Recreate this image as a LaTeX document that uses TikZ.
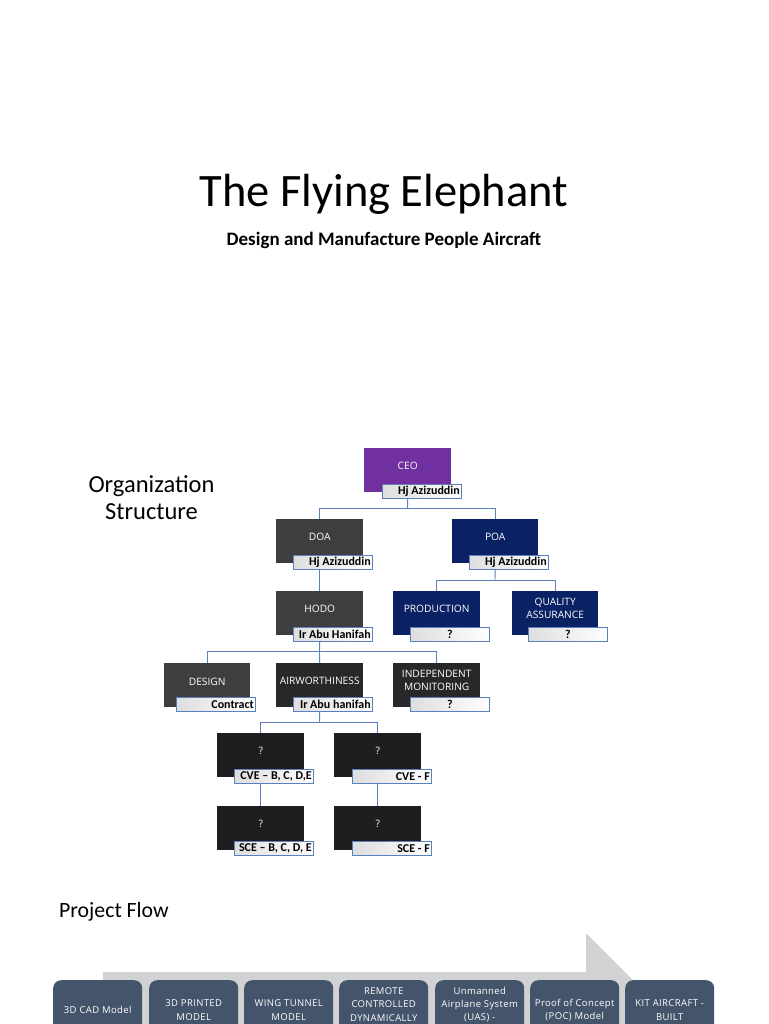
\documentclass[tikz,border=0pt]{standalone}
\usepackage{fontspec}
\setmainfont{Carlito}
\newfontfamily\osans{Open Sans}
\newfontfamily\osansls{Open Sans}[LetterSpace=4]
\usetikzlibrary{calc}
\definecolor{ceoc}{HTML}{7030A0}
\definecolor{grayA}{HTML}{3E3E3E}
\definecolor{grayB}{HTML}{282828}
\definecolor{grayC}{HTML}{1E1E1E}
\definecolor{navyc}{HTML}{0A2163}
\definecolor{connc}{HTML}{5B80C0}
\definecolor{flowc}{HTML}{44546A}
\definecolor{arrowc}{HTML}{D1D2D4}
\tikzset{
  obox/.style={rectangle, inner sep=0pt, minimum width=87pt, minimum height=44pt, anchor=north west},
  btxt/.style={text=white, align=center, inner sep=0pt, font=\osans\fontsize{10.2}{13}\selectfont},
  lbl/.style={rectangle, draw=connc, line width=1pt, left color=black!13, middle color=black!10, right color=white,
     minimum height=14pt, minimum width=79pt, inner sep=0pt, anchor=north west},
  ltxt/.style={text=black, inner sep=0pt, font=\bfseries\fontsize{12}{12}\selectfont},
  conn/.style={draw=connc, line width=0.9pt},
  fbox/.style={rectangle, rounded corners=8pt, fill=flowc, minimum width=89pt, minimum height=70pt, anchor=north west, inner sep=0pt},
  ftxt/.style={text=white, align=center, inner sep=0pt, font=\osansls\fontsize{9.5}{13.2}\selectfont}
}
\begin{document}
\begin{tikzpicture}[x=1pt,y=-1pt]
\useasboundingbox (0,0) rectangle (768,1024);
\clip (0,0) rectangle (768,1024);
\fill[white] (0,0) rectangle (768,1024);

% titles
\node[anchor=base, inner sep=0pt, font=\fontsize{46.5}{50}\selectfont] (title) at (384,207) {The Flying Elephant};
\node[anchor=base, inner sep=0pt, font=\bfseries\fontsize{19}{22}\selectfont] (sub) at (384,245) {Design and Manufacture People Aircraft};
\node[anchor=base, inner sep=0pt, font=\fontsize{24.5}{28}\selectfont] (org1) at (151.5,492) {Organization};
\node[anchor=base, inner sep=0pt, font=\fontsize{24.5}{28}\selectfont] (org2) at (151.5,519) {Structure};
\node[anchor=base west, inner sep=0pt, font=\fontsize{21.8}{26}\selectfont] (pflow) at (59,917) {Project Flow};

% org boxes
\node[obox, fill=ceoc] (ceo) at (364,448) {};
\node[btxt] at ($(ceo.north)+(0,18)$) {CEO};
\node[obox, fill=grayA] (doa) at (276,519) {};
\node[btxt] at ($(doa.north)+(0,18)$) {DOA};
\node[obox, fill=navyc, minimum width=86pt] (poa) at (452,519) {};
\node[btxt] at ($(poa.north)+(0,18)$) {POA};
\node[obox, fill=grayA] (hodo) at (276,591) {};
\node[btxt] at ($(hodo.north)+(0,18)$) {HODO};
\node[obox, fill=navyc] (prod) at (393,591) {};
\node[btxt] at ($(prod.north)+(0,18)$) {PRODUCTION};
\node[obox, fill=navyc, minimum width=86pt] (qa) at (512,591) {};
\node[btxt] at ($(qa.north)+(0,17.5)$) {QUALITY\\ASSURANCE};
\node[obox, fill=grayA, minimum width=86pt] (design) at (164,663) {};
\node[btxt] at ($(design.north)+(0,19)$) {DESIGN};
\node[obox, fill=grayB] (air) at (276,663) {};
\node[btxt] at ($(air.north)+(0,18)$) {AIRWORTHINESS};
\node[obox, fill=grayB] (ind) at (393,663) {};
\node[btxt] at ($(ind.north)+(0,17)$) {INDEPENDENT\\MONITORING};
\node[obox, fill=grayC] (q1) at (217,733) {};
\node[btxt] at ($(q1.north)+(0,18)$) {?};
\node[obox, fill=grayC] (q2) at (334,733) {};
\node[btxt] at ($(q2.north)+(0,18)$) {?};
\node[obox, fill=grayC] (q3) at (217,806) {};
\node[btxt] at ($(q3.north)+(0,18)$) {?};
\node[obox, fill=grayC] (q4) at (334,806) {};
\node[btxt] at ($(q4.north)+(0,18)$) {?};

% labels
\node[lbl] (ceol) at (382,484) {};
\node[ltxt, anchor=east] at ($(ceol.east)+(-2,0)$) {Hj Azizuddin};
\node[lbl] (doal) at (293,555) {};
\node[ltxt, anchor=east] at ($(doal.east)+(-2,0)$) {Hj Azizuddin};
\node[lbl] (poal) at (469,555) {};
\node[ltxt, anchor=east] at ($(poal.east)+(-2,0)$) {Hj Azizuddin};
\node[lbl] (hodol) at (293,627) {};
\node[ltxt, anchor=east] at ($(hodol.east)+(-2,0)$) {Ir Abu Hanifah};
\node[lbl] (prodl) at (410,627) {};
\node[ltxt] at (prodl.center) {?};
\node[lbl] (qal) at (528,627) {};
\node[ltxt] at (qal.center) {?};
\node[lbl] (designl) at (176,697) {};
\node[ltxt, anchor=east] at ($(designl.east)+(-2,0)$) {Contract};
\node[lbl] (airl) at (293,697) {};
\node[ltxt, anchor=east] at ($(airl.east)+(-2,0)$) {Ir Abu hanifah};
\node[lbl] (indl) at (410,697) {};
\node[ltxt] at (indl.center) {?};
\node[lbl] (q1l) at (234,769) {};
\node[ltxt, anchor=east] at ($(q1l.east)+(-2,0)$) {CVE -- B, C, D,E};
\node[lbl] (q2l) at (352,769) {};
\node[ltxt, anchor=east] at ($(q2l.east)+(-2,0)$) {CVE - F};
\node[lbl] (q3l) at (234,841) {};
\node[ltxt, anchor=east] at ($(q3l.east)+(-2,0)$) {SCE -- B, C, D, E};
\node[lbl] (q4l) at (352,841) {};
\node[ltxt, anchor=east] at ($(q4l.east)+(-2,0)$) {SCE - F};

% connectors
\coordinate (j1) at (407.5,508);
\coordinate (j2) at (495,580);
\coordinate (j3) at (319.5,651);
\coordinate (j4) at (319.5,722);
\draw[conn] (ceo.south |- ceol.south) -- (j1);
\draw[conn] (j1) -| (doa.north);
\draw[conn] (j1) -| (poa.north);
\draw[conn] (doa.south |- doal.south) -- (hodo.north);
\draw[conn] (poa.south |- poal.south) -- (j2);
\draw[conn] (j2) -| (prod.north);
\draw[conn] (j2) -| (qa.north);
\draw[conn] (hodo.south |- hodol.south) -- (j3);
\draw[conn] (j3) -| (design.north);
\draw[conn] (j3) -| (ind.north);
\draw[conn] (j3) -- (air.north);
\draw[conn] (air.south |- airl.south) -- (j4);
\draw[conn] (j4) -| (q1.north);
\draw[conn] (j4) -| (q2.north);
\draw[conn] (q1.south |- q1l.south) -- (q3.north);
\draw[conn] (q2.south |- q2l.south) -- (q4.north);

% project flow arrow
\fill[arrowc] (103,972) -- (586,972) -- (586,933) -- (720,1067) -- (103,1067) -- cycle;

% flow boxes
\node[fbox] (f1) at (53,980) {};
\node[fbox] (f2) at (149,980) {};
\node[fbox] (f3) at (244,980) {};
\node[fbox] (f4) at (339,980) {};
\node[fbox] (f5) at (435,980) {};
\node[fbox] (f6) at (530,980) {};
\node[fbox] (f7) at (625,980) {};
\node[ftxt] at (f1.north |- 0,1010) {3D CAD Model};
\node[ftxt] at (f2.north |- 0,1010) {3D PRINTED\\MODEL};
\node[ftxt] at (f3.north |- 0,1010) {WING TUNNEL\\MODEL};
\node[ftxt] at (f4.north |- 0,1004.5) {REMOTE\\CONTROLLED\\DYNAMICALLY};
\node[ftxt] at (f5.north |- 0,1004.5) {Unmanned\\Airplane System\\(UAS) -};
\node[ftxt] at (f6.north |- 0,1010) {Proof of Concept\\(POC) Model};
\node[ftxt] at (f7.north |- 0,1010) {KIT AIRCRAFT -\\BUILT};
\end{tikzpicture}
\end{document}
